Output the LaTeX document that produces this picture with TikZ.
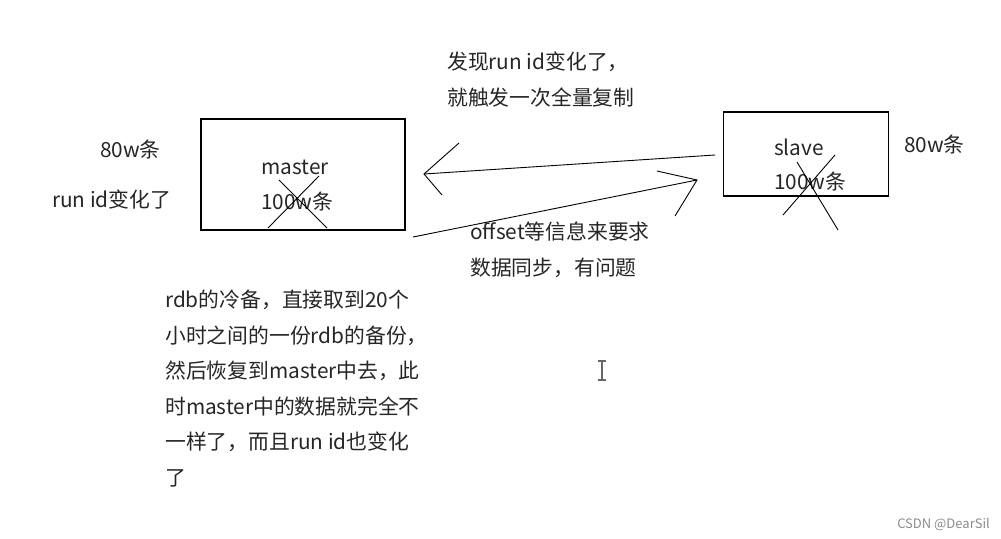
\documentclass[tikz,border=0pt]{standalone}
\usepackage{fontspec}
\setmainfont{Noto Sans CJK SC}
\begin{document}
\begin{tikzpicture}[x=1pt,y=-1pt,
  txt/.style={anchor=west,inner sep=0pt,font=\fontsize{20.8}{22}\selectfont,text=black!85},
  box/.style={draw,line width=1.2pt,inner sep=0pt},
  pen/.style={line width=0.9pt},
  para/.style={anchor=north west,inner sep=0pt,align=left,font=\fontsize{20.8}{35.5}\selectfont,text=black!85}]
\useasboundingbox[fill=white] (0,0) rectangle (1001,538);
% boxes
\node[box,minimum width=204pt,minimum height=111pt] (master) at (303,174.5) {};
\node[box,minimum width=165pt,minimum height=84pt] (slave) at (806,154) {};
% box texts
\node[txt] (mt) at (261,167) {master};
\node[txt] (mc) at (261,202) {100w条};
\node[txt] (st) at (774,147) {slave};
\node[txt] (sc) at (774,182) {100w条};
% crosses
\coordinate (m1a) at (268,228); \coordinate (m1b) at (319,176);
\coordinate (m2a) at (279,180); \coordinate (m2b) at (327,228);
\draw[pen] (m1a) -- (m1b); \draw[pen] (m2a) -- (m2b);
\coordinate (s1a) at (783,215); \coordinate (s1b) at (835,155);
\coordinate (s2a) at (797,162); \coordinate (s2b) at (838,230);
\draw[pen] (s1a) -- (s1b); \draw[pen] (s2a) -- (s2b);
% arrow 1 (slave -> master)
\coordinate (a1s) at (715,155); \coordinate (a1t) at (424,174);
\coordinate (a1u) at (459,143); \coordinate (a1l) at (442,195);
\draw[pen] (a1s) -- (a1t); \draw[pen] (a1u) -- (a1t) -- (a1l);
% arrow 2 (master -> slave)
\coordinate (a2s) at (413,237); \coordinate (a2t) at (697,180);
\coordinate (a2u) at (657,171); \coordinate (a2l) at (675,216);
\draw[pen] (a2s) -- (a2t); \draw[pen] (a2u) -- (a2t) -- (a2l);
% side labels
\node[txt] (l80) at (100,150) {80w条};
\node[txt] (lrun) at (52,200) {run id变化了};
\node[txt] (r80) at (904,145) {80w条};
% arrow labels
\node[txt] (t1) at (447,62) {发现run id变化了，};
\node[txt] (t2) at (447,98) {就触发一次全量复制};
\node[txt] (t3) at (470,232) {offset等信息来要求};
\node[txt] (t4) at (470,268) {数据同步，有问题};
% paragraph
\node[para] (p) at (165,290) {rdb的冷备，直接取到20个\\小时之间的一份rdb的备份，\\然后恢复到master中去，此\\时master中的数据就完全不\\一样了，而且run id也变化\\了};
% cursor
\draw[line width=1.2pt,black!60] (602,361) -- (602,380) (598,361) -- (606,361) (598,380) -- (606,380);
% watermark
\node[anchor=east,inner sep=0pt,font=\fontsize{13}{14}\selectfont,text=black!45] (wm) at (990,524) {CSDN @DearSil};
\end{tikzpicture}
\end{document}
